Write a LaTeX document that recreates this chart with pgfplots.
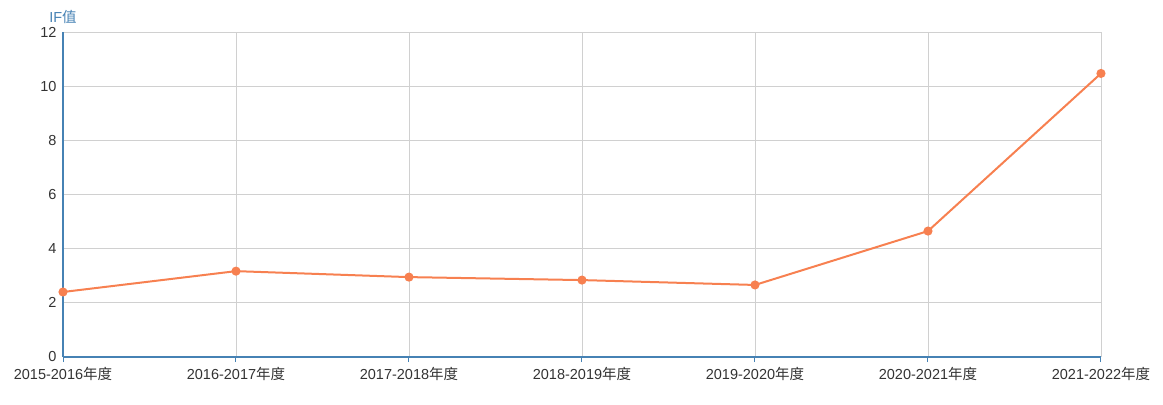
\documentclass[border=0pt]{standalone}
\usepackage{pgfplots}
\pgfplotsset{compat=1.18}
\usepackage{fontspec}
\setmainfont{Liberation Sans}
\newfontfamily\cjk{Noto Sans CJK SC}
\definecolor{axisblue}{RGB}{70,130,180}
\definecolor{lineorange}{RGB}{247,128,80}
\definecolor{gridgray}{RGB}{208,208,208}
\definecolor{txtgray}{RGB}{51,51,51}
\begin{document}
\begin{tikzpicture}
\path[use as bounding box] (0,0) rectangle (1163bp,405bp);
\begin{axis}[
  at={(63bp,48bp)}, anchor=south west,
  scale only axis, width=1038bp, height=325bp,
  xmin=0, xmax=6, ymin=0, ymax=12,
  axis x line*=bottom, axis y line*=left,
  axis line style={axisblue, line width=2.5bp, -},
  xtick=data,
  xticklabels={2015-2016{\cjk 年度},2016-2017{\cjk 年度},2017-2018{\cjk 年度},2018-2019{\cjk 年度},2019-2020{\cjk 年度},2020-2021{\cjk 年度},2021-2022{\cjk 年度}},
  ytick={0,2,...,12},
  grid=major,
  major grid style={gridgray, line width=0.8bp},
  x tick style={axisblue, line width=1bp},
  major tick length=5bp,
  xtick align=outside,
  ytick style={draw=none},
  tick label style={txtgray, font=\fontsize{14.5bp}{16bp}\selectfont},
  /pgf/number format/assume math mode=true,
  xticklabel style={yshift=-2bp},
  yticklabel style={xshift=-3bp},
  ylabel={IF{\cjk 值}},
  ylabel style={rotate=-90, at={(axis description cs:0,1)}, anchor=south, yshift=5bp,
    axisblue, font=\fontsize{14.5bp}{16bp}\selectfont},
  clip=false,
]
\addplot[lineorange, line width=2bp, mark=*, mark size=3.5bp, mark options={fill=lineorange, draw=lineorange}]
coordinates {
  (0,2.40) (1,3.17) (2,2.95) (3,2.84) (4,2.66) (5,4.65) (6,10.47)
};
\end{axis}
\end{tikzpicture}
\end{document}
